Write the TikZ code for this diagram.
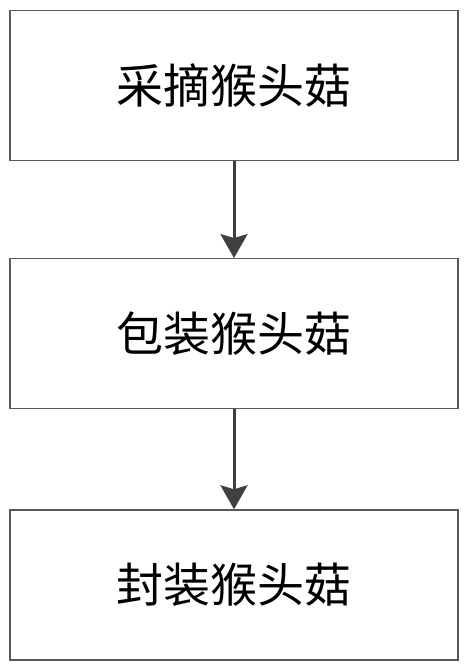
\documentclass[tikz,border=0pt]{standalone}
\usepackage{fontspec}
\newfontfamily\cjk{Noto Sans CJK SC}
\usetikzlibrary{positioning,arrows.meta}

\begin{document}
\begin{tikzpicture}[x=1pt,y=1pt,
    stepbox/.style={draw=black!65, line width=0.6pt, minimum width=224pt,
      minimum height=75pt, inner sep=0pt, font=\cjk\fontsize{23.5}{24}\selectfont},
    flow/.style={draw=black!75, line width=1.5pt,
      -{Stealth[length=12pt,width=13.5pt,inset=2pt]}}]
      % Page size
      \useasboundingbox (0,0) rectangle (237,-336);

      % Boxes
      \node[stepbox] (pick) at (117,-42.75) {采摘猴头菇};
      \node[stepbox, below=48.5pt of pick] (pack) {包装猴头菇};
      \node[stepbox, below=50pt of pack] (seal) {封装猴头菇};

      % Arrows
      \draw[flow] (pick) -- (pack);
      \draw[flow] (pack) -- (seal);
    \end{tikzpicture}
\end{document}
